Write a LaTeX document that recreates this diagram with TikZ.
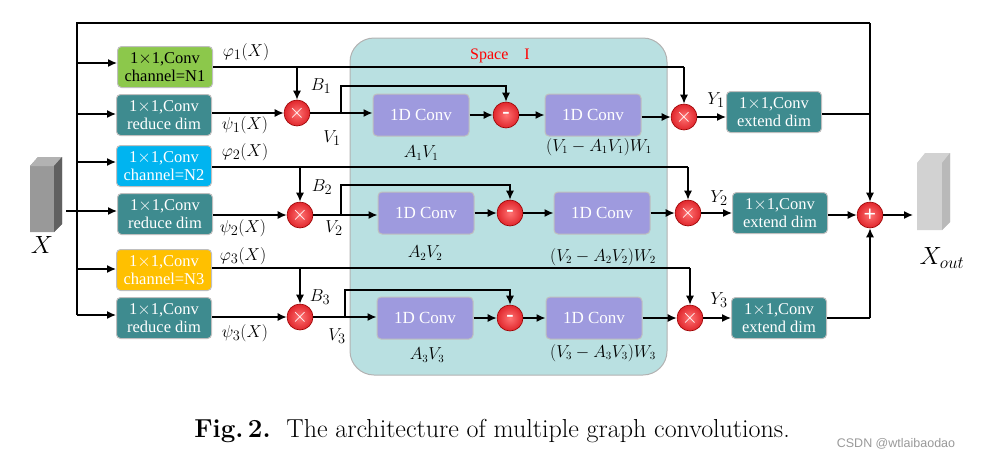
\documentclass[tikz,border=0pt]{standalone}
\usepackage{fontspec}
\setmainfont{Liberation Serif}
\newfontfamily\lmr{Latin Modern Roman}
\newfontfamily\cs{Liberation Sans}
\usetikzlibrary{arrows.meta}
\definecolor{teal1}{HTML}{3E8B8F}
\definecolor{grn}{HTML}{8CC84B}
\definecolor{blu}{HTML}{00B4F0}
\definecolor{yel}{HTML}{FFC000}
\definecolor{pur}{HTML}{9E9ADE}
\definecolor{spc}{HTML}{B9E0E1}
\definecolor{redc}{HTML}{E0262C}
\begin{document}
\begin{tikzpicture}[x=1pt,y=-1pt,
 box/.style={draw=gray!50,line width=1pt,rounded corners=4pt,minimum width=95pt,minimum height=41pt,align=center,font=\fontsize{16.5}{18}\selectfont,inner sep=0pt,text=white},
 conv/.style={draw=gray!50,line width=1pt,rounded corners=4pt,fill=pur,minimum width=96pt,minimum height=42pt,font=\fontsize{17}{18}\selectfont,text=white},
 op/.style={circle,draw=red!60!black,line width=0.6pt,inner color=red!55!white,outer color=redc,minimum size=26pt,inner sep=0pt,text=white,font=\bfseries\fontsize{22}{22}\selectfont},
 ln/.style={line width=1.4pt},
 ar/.style={ln,-{Latex[length=9pt,width=8pt]}},
 lb/.style={font=\fontsize{19}{20}\selectfont}]
\useasboundingbox (0,0) rectangle (982,461);
\fill[spc,draw=gray!60,line width=1pt,rounded corners=24pt] (350,38) rectangle (667,375);
\node[text=red,font=\fontsize{16}{17}\selectfont] (sp) at (500,56) {Space\quad I};
% input
\fill[gray!80] (30,166) -- (38,157) -- (62,157) -- (62,224) -- (54,232) -- (30,232) -- cycle;
\fill[gray!60] (30,166) -- (38,157) -- (62,157) -- (54,166) -- cycle;
\fill[gray!75!black] (54,166) -- (62,157) -- (62,224) -- (54,232) -- cycle;
\coordinate (xin) at (66,211);
\node[font=\fontsize{26}{28}\selectfont] (xl) at (42,245) {$X$};
% output
\fill[gray!35] (917,163) -- (925,153) -- (950,153) -- (950,222) -- (942,230) -- (917,230) -- cycle;
\fill[gray!55] (942,163) -- (950,153) -- (950,222) -- (942,230) -- cycle;
\node[font=\fontsize{26}{28}\selectfont] (xo) at (942,258) {$X_{out}$};
\coordinate (xoin) at (913,215);
% boxes
\node[box,fill=grn,text=black] (g1) at (165,67) {1$\times$1,Conv\\channel=N1};
\node[box,fill=teal1] (t1) at (164,115) {1$\times$1,Conv\\reduce dim};
\node[box,fill=blu] (g2) at (164,166) {1$\times$1,Conv\\channel=N2};
\node[box,fill=teal1] (t2) at (165,214) {1$\times$1,Conv\\reduce dim};
\node[box,fill=yel,text=white] (g3) at (164,270) {1$\times$1,Conv\\channel=N3};
\node[box,fill=teal1] (t3) at (164,318) {1$\times$1,Conv\\reduce dim};
\node[box,fill=teal1] (e1) at (774,112) {1$\times$1,Conv\\extend dim};
\node[box,fill=teal1] (e2) at (780,213) {1$\times$1,Conv\\extend dim};
\node[box,fill=teal1] (e3) at (779,318) {1$\times$1,Conv\\extend dim};
% conv
\node[conv] (c1a) at (421,115) {1D Conv};
\node[conv] (c1b) at (593,115) {1D Conv};
\node[conv] (c2a) at (426,213) {1D Conv};
\node[conv] (c2b) at (602,213) {1D Conv};
\node[conv] (c3a) at (425,318) {1D Conv};
\node[conv] (c3b) at (594,318) {1D Conv};
% ops
\node[op] (m1) at (297,113) {$\times$};
\node[op] (m2) at (300,215) {$\times$};
\node[op] (m3) at (300,317) {$\times$};
\node[op] (s1) at (506,115) {-};
\node[op] (s2) at (510,213) {-};
\node[op] (s3) at (510,318) {-};
\node[op] (y1) at (684,117) {$\times$};
\node[op] (y2) at (688,213) {$\times$};
\node[op] (y3) at (690,318) {$\times$};
\node[op] (pl) at (870,215) {+};
% input fan-out
\draw[ln] (xin) -- (77,211);
\draw[ln] (77,315) -- (77,23) -- (870,23);
\draw[ar] (870,23) -- (pl);
\draw[ar] (77,63) -- (g1.west|-77,63);
\draw[ar] (77,114) -- (t1.west|-77,114);
\draw[ar] (77,162) -- (g2.west|-77,162);
\draw[ar] (77,211) -- (t2.west|-77,211);
\draw[ar] (77,269) -- (g3.west|-77,269);
\draw[ar] (77,315) -- (t3.west|-77,315);
% row 1
\draw[ln] (g1.east|-0,67) -- (684,67);
\draw[ar] (684,67) -- (y1);
\draw[ar] (297,67) -- (m1);
\draw[ar] (t1.east|-0,113) -- (m1);
\draw[ar] (m1) -- (c1a.west|-0,113);
\draw[ar] (341,113) -- (341,86) -- (506,86) -- (s1);
\draw[ar] (c1a.east|-0,115) -- (s1);
\draw[ar] (s1) -- (c1b.west|-0,115);
\draw[ar] (c1b.east|-0,117) -- (y1);
\draw[ar] (y1) -- (e1.west|-0,117);
\draw[ln] (e1.east|-0,114) -- (870,114);
% row 2
\draw[ln] (g2.east|-0,167) -- (688,167);
\draw[ar] (688,167) -- (y2);
\draw[ar] (300,167) -- (m2);
\draw[ar] (t2.east|-0,215) -- (m2);
\draw[ar] (m2) -- (c2a.west|-0,215);
\draw[ar] (341,215) -- (341,185) -- (510,185) -- (s2);
\draw[ar] (c2a.east|-0,213) -- (s2);
\draw[ar] (s2) -- (c2b.west|-0,213);
\draw[ar] (c2b.east|-0,213) -- (y2);
\draw[ar] (y2) -- (e2.west|-0,213);
\draw[ar] (e2.east|-0,215) -- (pl);
\draw[ar] (pl) -- (xoin);
% row 3
\draw[ln] (g3.east|-0,268) -- (690,268);
\draw[ar] (690,268) -- (y3);
\draw[ar] (300,268) -- (m3);
\draw[ar] (t3.east|-0,317) -- (m3);
\draw[ar] (m3) -- (c3a.west|-0,317);
\draw[ar] (345,317) -- (345,290) -- (510,290) -- (s3);
\draw[ar] (c3a.east|-0,318) -- (s3);
\draw[ar] (s3) -- (c3b.west|-0,318);
\draw[ar] (c3b.east|-0,318) -- (y3);
\draw[ar] (y3) -- (e3.west|-0,318);
\draw[ln] (e3.east|-0,318) -- (870,318);
\draw[ar] (870,318) -- (pl);
% labels
\node[lb] (p1) at (246,52) {$\varphi_1(X)$};
\node[lb] (q1) at (245,125) {$\psi_1(X)$};
\node[lb] (p2) at (245,152) {$\varphi_2(X)$};
\node[lb] (q2) at (243,228) {$\psi_2(X)$};
\node[lb] (p3) at (243,256) {$\varphi_3(X)$};
\node[lb] (q3) at (245,333) {$\psi_3(X)$};
\node[lb] (b1) at (321,86) {$B_1$};
\node[lb] (b2) at (322,187) {$B_2$};
\node[lb] (b3) at (320,297) {$B_3$};
\node[lb] (v1) at (332,138) {$V_1$};
\node[lb] (v2) at (334,228) {$V_2$};
\node[lb] (v3) at (337,336) {$V_3$};
\node[font=\fontsize{16}{17}\selectfont] (a1) at (421,153) {$A_1V_1$};
\node[font=\fontsize{16}{17}\selectfont] (a2) at (425,253) {$A_2V_2$};
\node[font=\fontsize{16}{17}\selectfont] (a3) at (427,355) {$A_3V_3$};
\node[font=\fontsize{16}{17}\selectfont] (w1) at (599,147) {$(V_1-A_1V_1)W_1$};
\node[font=\fontsize{16}{17}\selectfont] (w2) at (603,257) {$(V_2-A_2V_2)W_2$};
\node[font=\fontsize{16}{17}\selectfont] (w3) at (603,353) {$(V_3-A_3V_3)W_3$};
\node[lb] (yl1) at (716,100) {$Y_1$};
\node[lb] (yl2) at (719,198) {$Y_2$};
\node[lb] (yl3) at (719,300) {$Y_3$};
\node[font=\lmr\fontsize{26}{28}\selectfont] (cap) at (492,431) {\textbf{Fig.\,2.}\ \ The architecture of multiple graph convolutions.};
\node[font=\cs\fontsize{12.5}{13}\selectfont,text=gray!80] (wm) at (896,444) {CSDN @wtlaibaodao};
\end{tikzpicture}
\end{document}
